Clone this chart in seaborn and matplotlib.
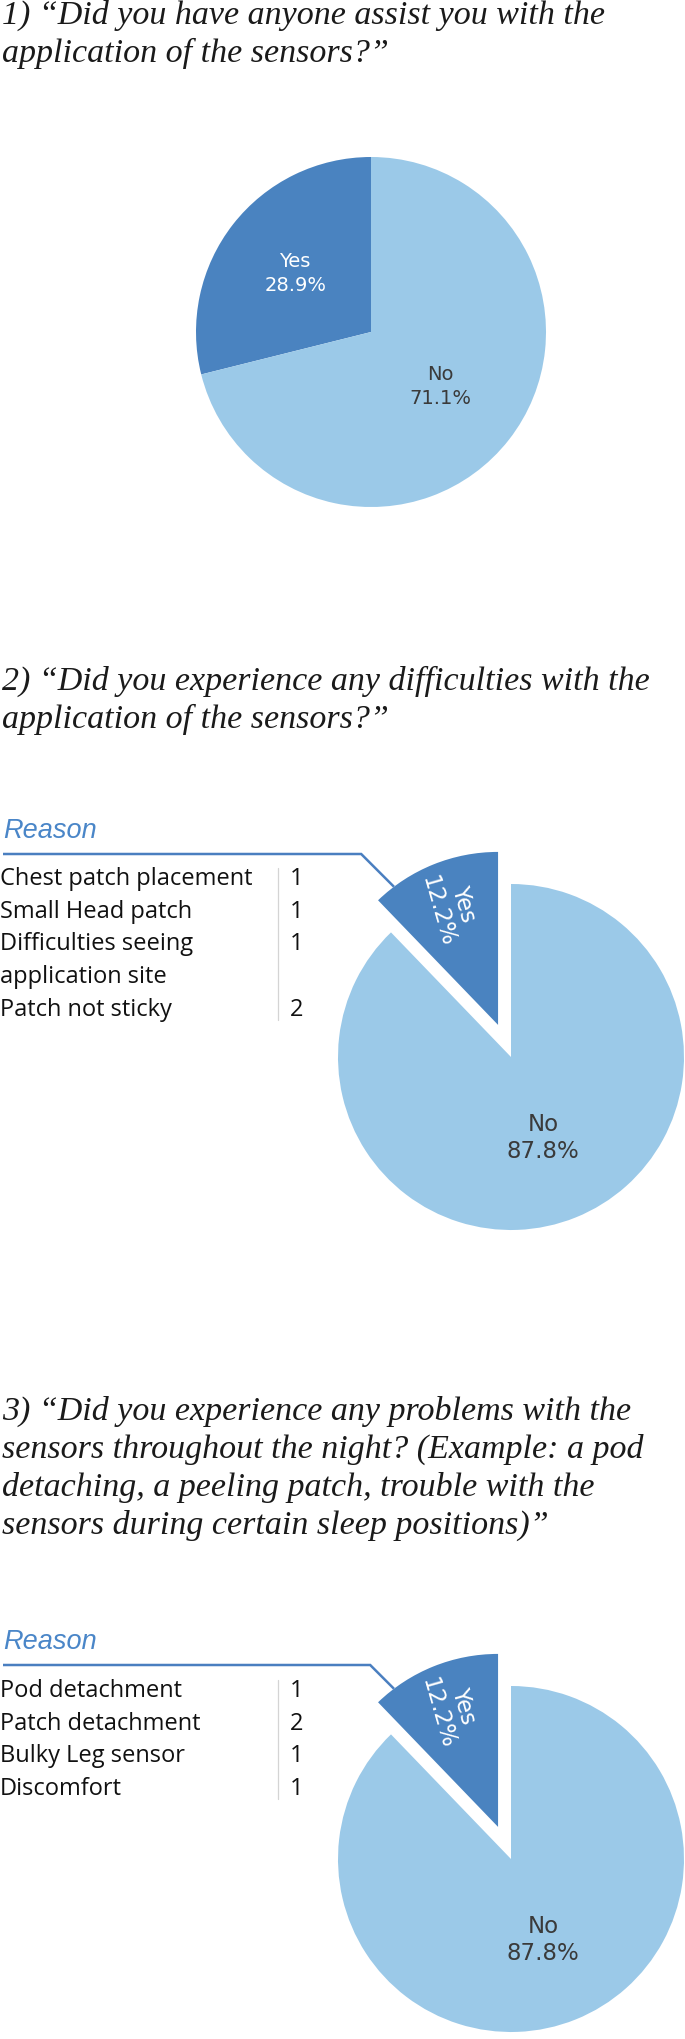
import matplotlib
matplotlib.use("Agg")
import matplotlib.pyplot as plt
import seaborn as sns
import numpy as np

sns.set_theme(style="white")
plt.rcParams['font.family'] = ['DejaVu Sans']

# ---------------- data ----------------
answer_labels = ["Yes", "No"]
q1_values = [28.9, 71.1]
q2_values = [12.2, 87.8]
q3_values = [12.2, 87.8]

q2_reasons = ["Chest patch placement", "Small Head patch",
              "Difficulties seeing\napplication site", "Patch not sticky"]
q2_counts = [1, 1, 1, 2]
q3_reasons = ["Pod detachment", "Patch detachment", "Bulky Leg sensor", "Discomfort"]
q3_counts = [1, 2, 1, 1]

title1 = ["1) \u201cDid you have anyone assist you with the",
          "application of the sensors?\u201d"]
title2 = ["2) \u201cDid you experience any difficulties with the",
          "application of the sensors?\u201d"]
title3 = ["3) \u201cDid you experience any problems with the",
          "sensors throughout the night? (Example: a pod",
          "detaching, a peeling patch, trouble with the",
          "sensors during certain sleep positions)\u201d"]

# ---------------- style ----------------
palette = sns.color_palette(["#4a83c0", "#9bc9e8"])
label_colors = ["white", "#3a3a3a"]
line_blue = "#4a7fc0"
reason_blue = "#4a86c8"

W, H = 685, 2040
fig = plt.figure(figsize=(W / 100, H / 100), dpi=100)
fig.patch.set_facecolor("white")

over = fig.add_axes([0, 0, 1, 1], zorder=5)
over.set_xlim(0, W)
over.set_ylim(H, 0)
over.axis("off")
over.patch.set_alpha(0)


def pie_axes(cx, cy, r_px, half=215):
    ax = fig.add_axes([(cx - half) / W, (H - cy - half) / H, 2 * half / W, 2 * half / H])
    return ax, half / r_px


def draw_pie(cx, cy, r_px, values, explode, dists, fsize, lsp, rot_yes=False):
    ax, L = pie_axes(cx, cy, r_px)
    wedges, _ = ax.pie(values, colors=palette, startangle=90, counterclock=True,
                       explode=explode, wedgeprops=dict(linewidth=0))
    ax.set_xlim(-L, L)
    ax.set_ylim(-L, L)
    ax.set_aspect("equal")
    ax.axis("off")
    for i, (w, lab, v) in enumerate(zip(wedges, answer_labels, values)):
        mid = (w.theta1 + w.theta2) / 2
        a = np.deg2rad(mid)
        x = w.center[0] + dists[i] * w.r * np.cos(a)
        y = w.center[1] + dists[i] * w.r * np.sin(a)
        rot = 0
        if rot_yes and i == 0:
            rot = mid - 186
        ax.text(x, y, f"{lab}\n{v:.1f}%", ha="center", va="center",
                color=label_colors[i], fontsize=fsize, rotation=rot,
                rotation_mode="anchor", linespacing=lsp,
                family="DejaVu Sans")
    return ax, wedges


def to_over(ax, pt):
    d = ax.transData.transform(pt)
    return over.transData.inverted().transform(d)


def draw_title(lines, y0, step=38):
    for k, t in enumerate(lines):
        over.text(2, y0 + k * step, t, ha="left", va="baseline",
                  fontsize=24.5, style="italic", family="Liberation Serif",
                  color="#1a1a1a")


def draw_table(ax, wedges, reasons, counts, y_reason, y_line, y_first, step=32.7):
    over.text(3, y_reason, "Reason", ha="left", va="baseline", fontsize=19.5,
              style="italic", family="Liberation Sans", color=reason_blue)
    # leader line to the Yes wedge
    w = wedges[0]
    a = np.deg2rad(127)
    end = to_over(ax, (w.center[0] + w.r * np.cos(a), w.center[1] + w.r * np.sin(a)))
    knee_x = end[0] - (end[1] - y_line)
    over.plot([3, knee_x, end[0]], [y_line, y_line, end[1]], color=line_blue,
              lw=1.8, solid_capstyle="butt", solid_joinstyle="miter")
    row = 0
    for r, c in zip(reasons, counts):
        yb = y_first + row * step
        for j, part in enumerate(r.split("\n")):
            over.text(0, yb + j * step, part, ha="left", va="baseline",
                      fontsize=17, family="Open Sans", color="#111111")
        over.text(290, yb, str(c), ha="left", va="baseline", fontsize=17,
                  family="Open Sans", color="#111111")
        row += len(r.split("\n"))
    last = y_first + (row - 1) * step
    over.plot([278, 278], [y_first - 16, last + 5], color="#d4d4d4", lw=0.9)


# ---------------- panel 1 ----------------
draw_title(title1, 24)
draw_pie(371, 333, 175, q1_values, [0, 0], [0.55, 0.5], 14, 1.35)

# ---------------- panel 2 ----------------
draw_title(title2, 690)
ax2, w2 = draw_pie(511, 1058, 173, q2_values, [0.2, 0], [0.74, 0.5], 16.5, 1.2, rot_yes=True)
draw_table(ax2, w2, q2_reasons, q2_counts, 838, 855, 885)

# ---------------- panel 3 ----------------
draw_title(title3, 1420)
ax3, w3 = draw_pie(511, 1860, 173, q3_values, [0.2, 0], [0.74, 0.5], 16.5, 1.2, rot_yes=True)
draw_table(ax3, w3, q3_reasons, q3_counts, 1649, 1666, 1697)

fig.savefig("out.png", dpi=100, facecolor="white")
